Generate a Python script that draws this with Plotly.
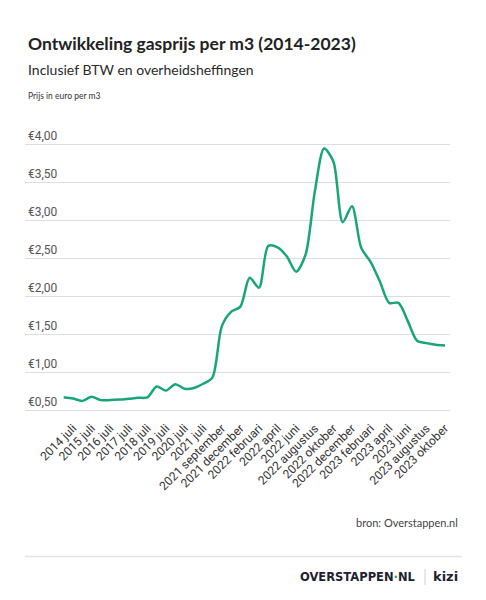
import plotly.graph_objects as go

# ---- data ----
periods = [
    "2014 januari", "2014 juli", "2015 januari", "2015 juli", "2016 januari", "2016 juli",
    "2017 januari", "2017 juli", "2018 januari", "2018 juli", "2019 januari", "2019 juli",
    "2020 januari", "2020 juli", "2021 januari", "2021 juli", "2021 augustus", "2021 september",
    "2021 november", "2021 december", "2022 januari", "2022 februari", "2022 maart", "2022 april",
    "2022 mei", "2022 juni", "2022 juli", "2022 augustus", "2022 september", "2022 oktober",
    "2022 november", "2022 december", "2023 januari", "2023 februari", "2023 maart", "2023 april",
    "2023 mei", "2023 juni", "2023 juli", "2023 augustus", "2023 september", "2023 oktober",
]
prices = [
    0.667, 0.65, 0.62, 0.675, 0.63, 0.63,
    0.637, 0.648, 0.66, 0.667, 0.81, 0.755,
    0.84, 0.78, 0.79, 0.845, 0.93, 1.60,
    1.79, 1.86, 2.24, 2.11, 2.66, 2.64,
    2.52, 2.32, 2.54, 3.37, 3.94, 3.77,
    2.97, 3.18, 2.63, 2.45, 2.19, 1.91,
    1.91, 1.67, 1.41, 1.38, 1.36, 1.35,
]
tick_labels = [
    "2014 juli", "2015 juli", "2016 juli", "2017 juli", "2018 juli", "2019 juli",
    "2020 juli", "2021 juli", "2021 september", "2021 december", "2022 februari",
    "2022 april", "2022 juni", "2022 augustus", "2022 oktober", "2022 december",
    "2023 februari", "2023 april", "2023 juni", "2023 augustus", "2023 oktober",
]
y_ticks = [0.5, 1.0, 1.5, 2.0, 2.5, 3.0, 3.5, 4.0]
y_tick_text = ["€0,50", "€1,00", "€1,50", "€2,00", "€2,50", "€3,00", "€3,50", "€4,00"]

title = "Ontwikkeling gasprijs per m3 (2014-2023)"
subtitle = "Inclusief BTW en overheidsheffingen"
axis_note = "Prijs in euro per m3"
source = "bron: Overstappen.nl"

# ---- layout geometry (pixels) ----
W, H = 486, 600
L, R, T, B = 25, 36, 128, 187
PW, PH = W - L - R, H - T - B

def px(x):
    return (x - L) / PW

def py(y):
    return (H - B - y) / PH

GREEN = "#18a679"
DARK = "#1d2130"

fig = go.Figure()
fig.add_trace(go.Scatter(
    x=periods, y=prices, mode="lines",
    line=dict(color=GREEN, width=2.5, shape="spline", smoothing=0.8),
    hoverinfo="skip", showlegend=False,
))

fig.update_layout(
    width=W, height=H,
    margin=dict(l=L, r=R, t=T, b=B, pad=0),
    paper_bgcolor="white", plot_bgcolor="white",
    showlegend=False,
    xaxis=dict(
        type="category", categoryorder="array", categoryarray=periods,
        range=[-4.16, 41.54],
        tickmode="array", tickvals=tick_labels, ticktext=tick_labels,
        tickangle=-45, showgrid=False, zeroline=False, showline=False,
        ticks="", tickfont=dict(family="Roboto", size=12, color="#333333"),
        ticklabelstandoff=5, fixedrange=True,
    ),
    yaxis=dict(
        range=[0.5 - 3 / 76, 4.0 + 16 / 76], tickmode="array", tickvals=y_ticks, ticktext=y_tick_text,
        ticklabelposition="inside top", showgrid=True, gridcolor="#dedede", gridwidth=1,
        zeroline=False, showline=False, ticks="",
        tickfont=dict(family="Roboto", size=12, color="#555555"),
        fixedrange=True,
    ),
)

ann = []
ann.append(dict(text="<b>" + title + "</b>", x=px(26), y=py(44), xref="paper", yref="paper",
                xanchor="left", yanchor="middle", showarrow=False,
                font=dict(family="Lato", size=17.5, color="#222222")))
ann.append(dict(text=subtitle, x=px(26), y=py(69), xref="paper", yref="paper",
                xanchor="left", yanchor="middle", showarrow=False,
                font=dict(family="Lato", size=14, color="#2a2a2a")))
ann.append(dict(text=axis_note, x=px(26), y=py(96), xref="paper", yref="paper",
                xanchor="left", yanchor="middle", showarrow=False,
                font=dict(family="Lato", size=8.5, color="#333333")))
ann.append(dict(text=source, x=px(460), y=py(522), xref="paper", yref="paper",
                xanchor="right", yanchor="middle", showarrow=False,
                font=dict(family="Lato", size=11, color="#444444")))
ann.append(dict(text="<b>OVERSTAPPEN<span style='color:%s'>·</span>NL</b>" % GREEN,
                x=px(418), y=py(577), xref="paper", yref="paper",
                xanchor="right", yanchor="middle", showarrow=False,
                font=dict(family="DejaVu Sans", size=11.5, color=DARK)))
ann.append(dict(text="<b>kizi</b>", x=px(460), y=py(576), xref="paper", yref="paper",
                xanchor="right", yanchor="middle", showarrow=False,
                font=dict(family="DejaVu Sans", size=13, color=DARK)))
fig.update_layout(annotations=ann)

fig.add_shape(type="line", xref="paper", yref="paper",
              x0=px(25), x1=px(462), y0=py(556.5), y1=py(556.5),
              line=dict(color="#e4e4e4", width=1.5))
fig.add_shape(type="line", xref="paper", yref="paper",
              x0=px(425), x1=px(425), y0=py(569), y1=py(585),
              line=dict(color="#d0d0d0", width=1))

fig.write_html("out.html")
